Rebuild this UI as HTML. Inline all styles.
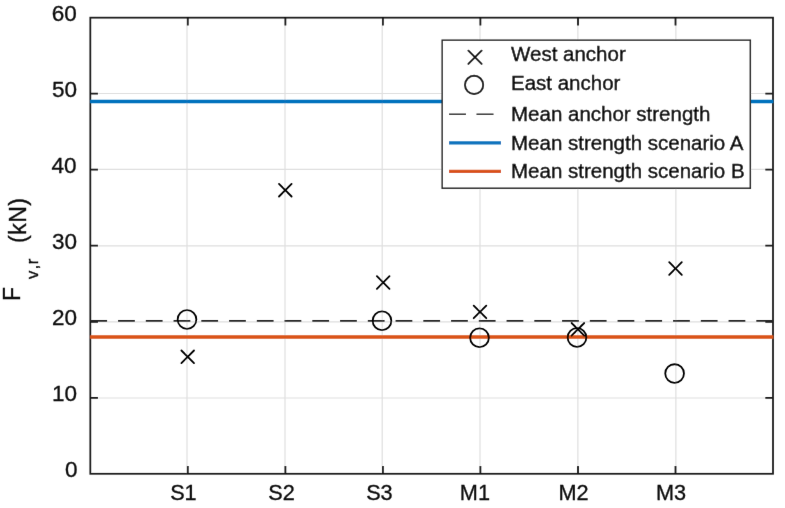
<!DOCTYPE html>
<html><head><meta charset="utf-8"><style>
html,body{margin:0;padding:0;background:#fff;width:785px;height:508px;overflow:hidden}
svg{display:block}
text{font-family:"Liberation Sans",Arial,sans-serif}
.tk{fill:#111;stroke:#111;stroke-width:0.35px}
.lg{fill:#000;stroke:#000;stroke-width:0.4px}
</style></head><body>
<svg width="785" height="508" viewBox="0 0 785 508">
<defs><filter id="bl" x="-5%" y="-5%" width="110%" height="110%"><feConvolveMatrix order="3" kernelMatrix="0.00276 0.04704 0.00276 0.04704 0.80077 0.04704 0.00276 0.04704 0.00276" divisor="1" edgeMode="duplicate"/></filter></defs>
<rect x="0" y="0" width="785" height="508" fill="#fff"/>
<g filter="url(#bl)">
<!-- grid -->
<g stroke="#dfdfdf" stroke-width="1.2" fill="none">
<path d="M187 17.7V473.8M285 17.7V473.8M382.2 17.7V473.8M480 17.7V473.8M577.9 17.7V473.8M675.9 17.7V473.8"/>
<path d="M90.3 398H773M90.3 321.9H773M90.3 245.8H773M90.3 169.3H773M90.3 93.5H773"/>
</g>
<!-- axes box & ticks -->
<g stroke="#1a1a1a" stroke-width="1.8" fill="none">
<rect x="90.3" y="17.7" width="682.7" height="456.1" stroke-width="1.75"/>
<path d="M187.8 473.8v-7.7M285.4 473.8v-7.7M382.9 473.8v-7.7M480.4 473.8v-7.7M578 473.8v-7.7M675.5 473.8v-7.7"/>
<path d="M187.8 17.7v7.7M285.4 17.7v7.7M382.9 17.7v7.7M480.4 17.7v7.7M578 17.7v7.7M675.5 17.7v7.7"/>
<path d="M90.3 397.8h7.7M90.3 321.8h7.7M90.3 245.7h7.7M90.3 169.7h7.7M90.3 93.7h7.7"/>
<path d="M773 397.8h-7.7M773 321.8h-7.7M773 245.7h-7.7M773 169.7h-7.7M773 93.7h-7.7"/>
</g>
<!-- data lines -->
<path d="M90.3 320.9H773" stroke="#262626" stroke-width="1.6" stroke-dasharray="16.8 10.95" fill="none"/>
<path d="M90.1 101.4H773.4" stroke="#0072BD" stroke-width="3.5" fill="none"/>
<path d="M90.1 337.1H773.4" stroke="#D95319" stroke-width="3.5" fill="none"/>
<!-- markers X -->
<g stroke="#000" stroke-width="1.8" fill="none" stroke-linecap="round">
<path d="M181.4 350.5l12.6 12.6M181.4 363.1l12.6 -12.6"/>
<path d="M279 183.9l12.6 12.6M279 196.5l12.6 -12.6"/>
<path d="M376.9 276.2l12.6 12.6M376.9 288.8l12.6 -12.6"/>
<path d="M473.7 305.6l12.6 12.6M473.7 318.2l12.6 -12.6"/>
<path d="M571.6 323l12.6 12.6M571.6 335.6l12.6 -12.6"/>
<path d="M669.2 262.2l12.6 12.6M669.2 274.8l12.6 -12.6"/>
</g>
<!-- markers O -->
<g stroke="#000" stroke-width="1.8" fill="none">
<circle cx="187" cy="319.5" r="9.35"/>
<circle cx="382" cy="320.8" r="9.35"/>
<circle cx="479.5" cy="337.7" r="9.35"/>
<circle cx="577" cy="337.5" r="9.35"/>
<circle cx="674.6" cy="373.6" r="9.35"/>
</g>
<!-- y tick labels -->
<g class="tk" font-size="22.5" text-anchor="end">
<text x="76.8" y="20.6">60</text>
<text x="77" y="96.9">50</text>
<text x="76.6" y="172.9">40</text>
<text x="77" y="248.9">30</text>
<text x="77" y="324.9">20</text>
<text x="77" y="400.9">10</text>
<text x="77.5" y="477">0</text>
</g>
<!-- x tick labels -->
<g class="tk" font-size="21.7" text-anchor="middle">
<text x="183.4" y="500.1">S1</text>
<text x="281.6" y="500.1">S2</text>
<text x="379.4" y="500.1">S3</text>
<text x="474.9" y="500.1">M1</text>
<text x="573.6" y="500.1">M2</text>
<text x="671.1" y="500.1">M3</text>
</g>
<!-- y label -->
<g class="tk" font-size="23">
<text transform="translate(19.9 301) rotate(-90)">F</text>
<text transform="translate(37.5 279.1) rotate(-90)" font-size="16.5">v<tspan dx="2.9">,</tspan><tspan dx="0.3">r</tspan></text>
<text transform="translate(25.9 243) rotate(-90)" letter-spacing="0.5">(kN)</text>
</g>
<!-- legend -->
<rect x="442.2" y="40.2" width="308.1" height="148" fill="#fff" stroke="#2a2a2a" stroke-width="1.5"/>
<g stroke="#000" stroke-width="1.9" fill="none" stroke-linecap="round">
<path d="M468.4 50.7l13.2 13.2M468.4 63.9l13.2 -13.2"/>
<circle cx="474.1" cy="84.9" r="9.1"/>
</g>
<path d="M449 114.3H494.5" stroke="#262626" stroke-width="1.5" stroke-dasharray="17 10.5" fill="none"/>
<path d="M449 142.8H501" stroke="#0072BD" stroke-width="3.2" fill="none"/>
<path d="M449 171.3H501" stroke="#D95319" stroke-width="3.2" fill="none"/>
<g class="lg" font-size="20.5">
<text x="511" y="61">West anchor</text>
<text x="511" y="89.6">East anchor</text>
<text x="511" y="120.8">Mean anchor strength</text>
<text x="511" y="149.8">Mean strength scenario A</text>
<text x="511" y="177.8">Mean strength scenario B</text>
</g>
</g>
</svg>
</body></html>
